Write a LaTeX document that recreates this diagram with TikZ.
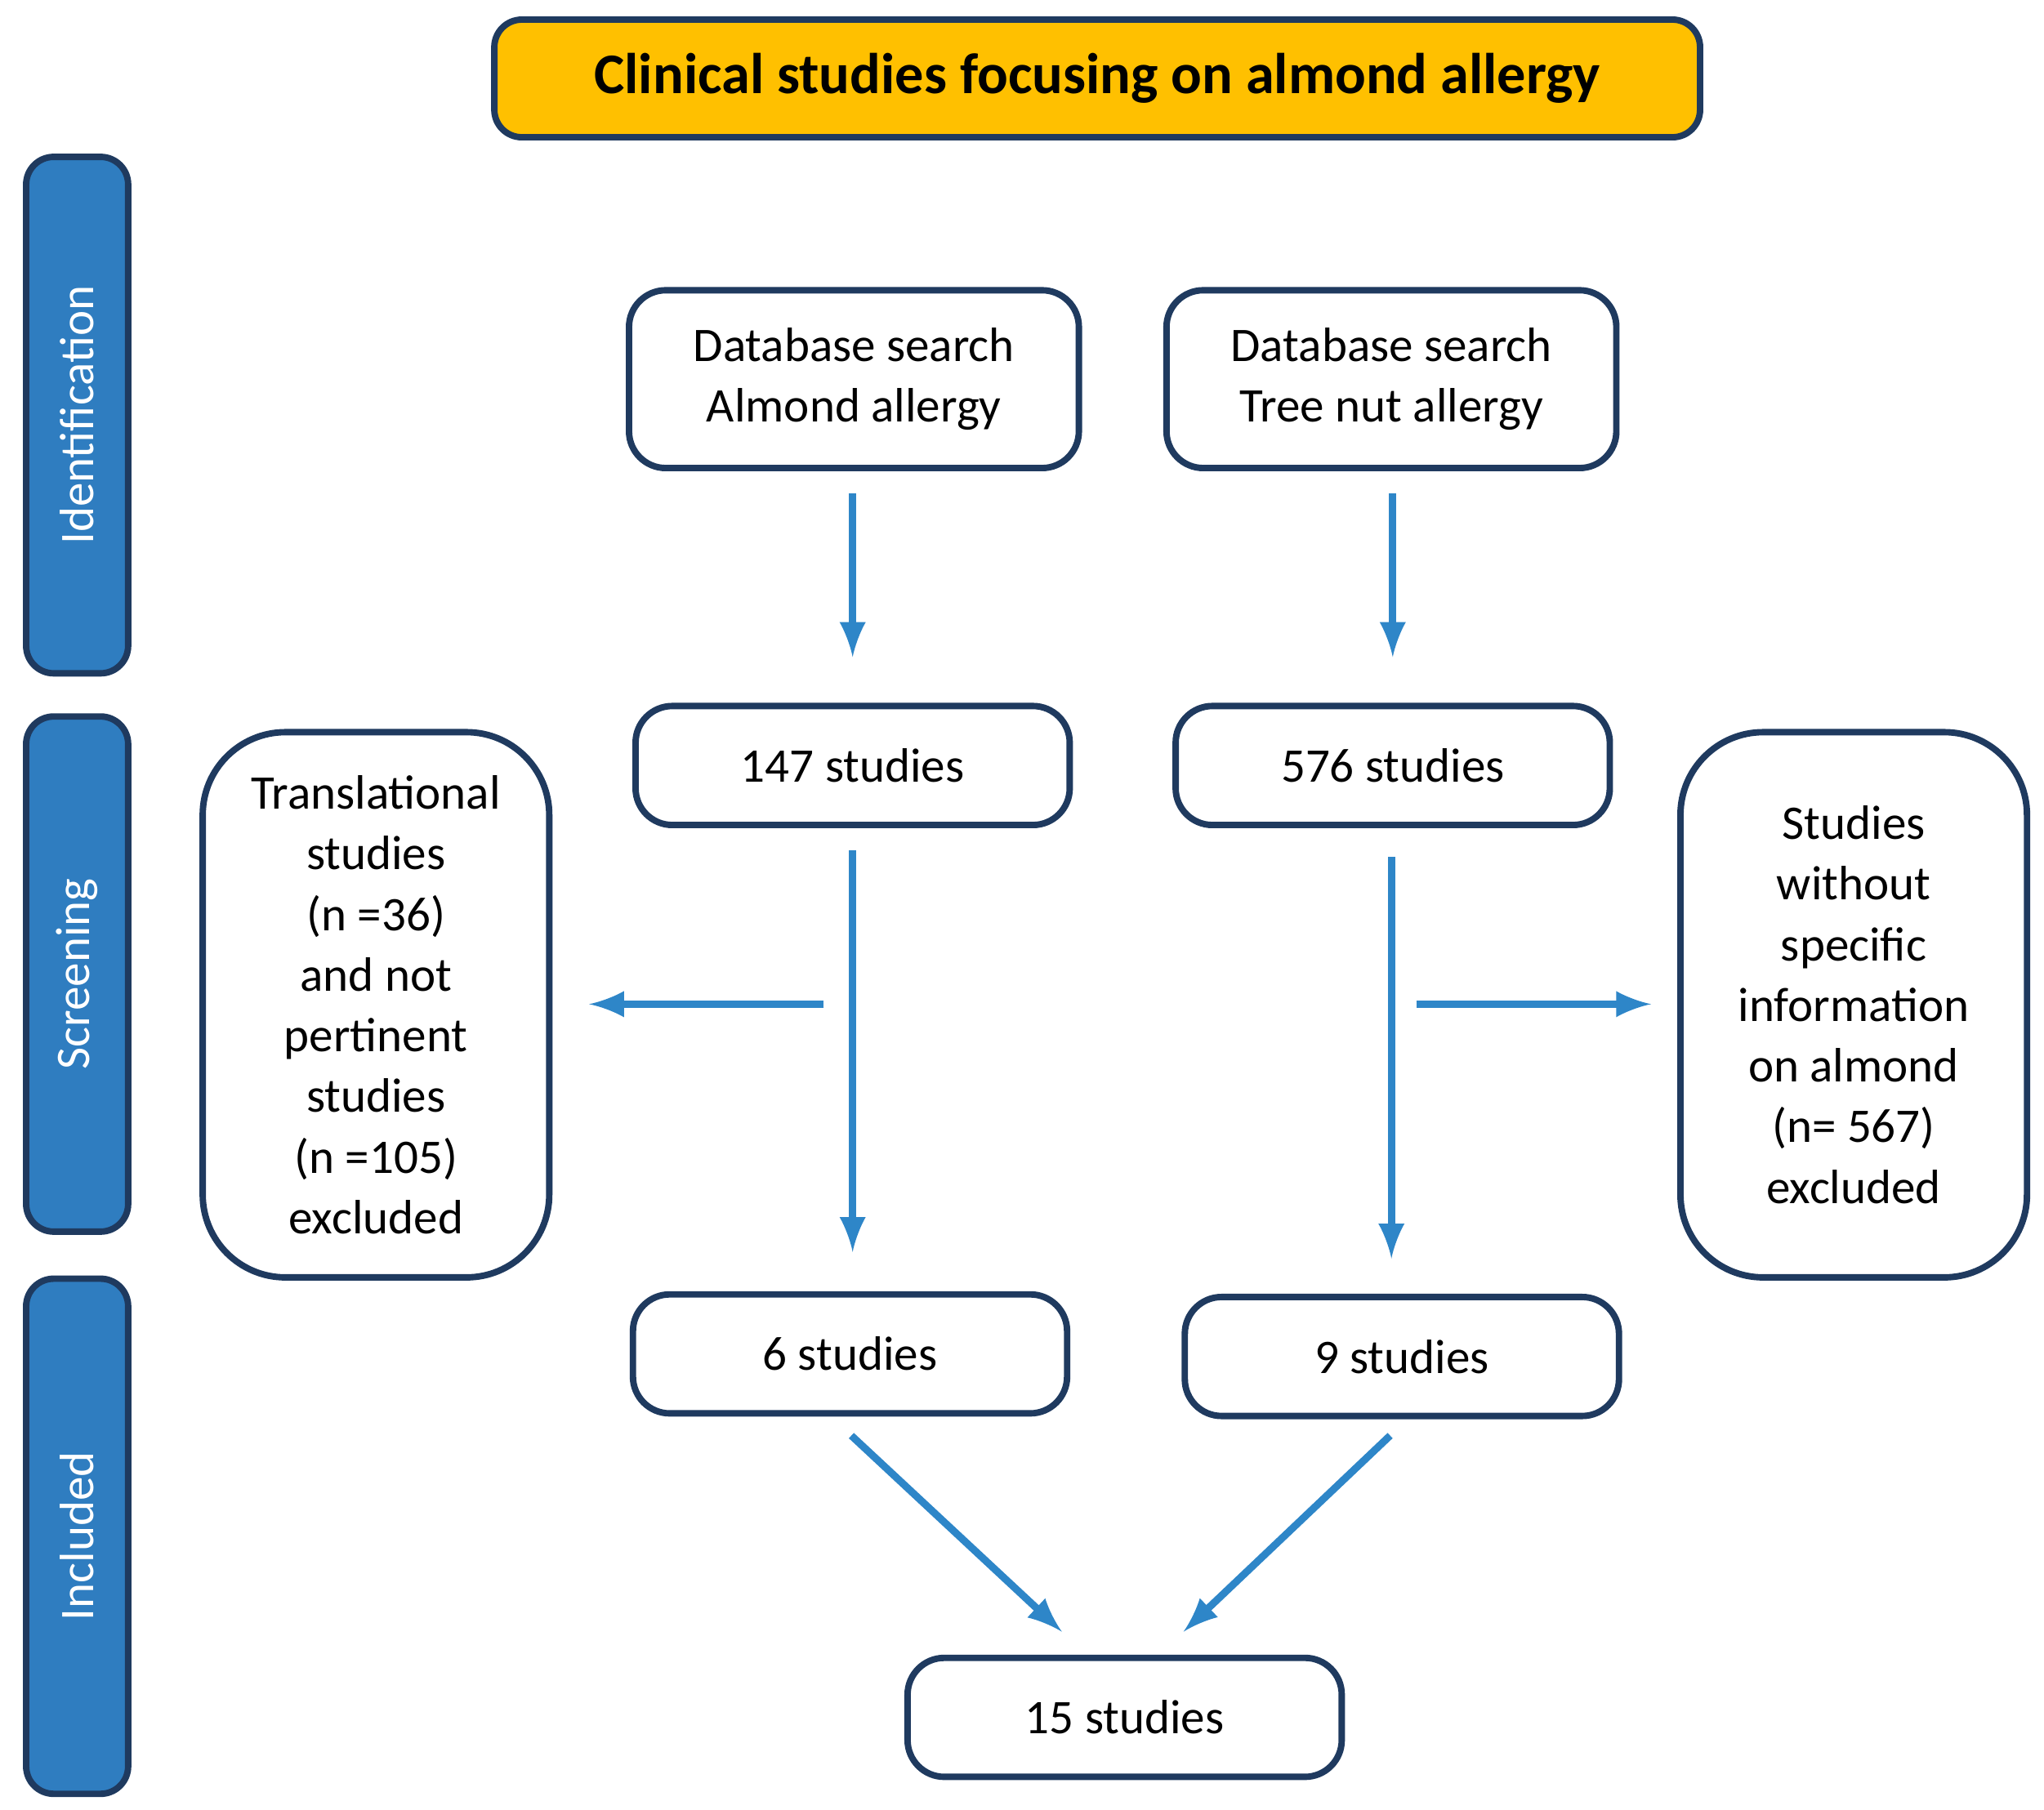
\documentclass[tikz,border=0pt]{standalone}
\usepackage{fontspec}
\setmainfont{Carlito}
\usetikzlibrary{positioning}
\definecolor{boxline}{HTML}{1F3A5F}
\definecolor{barblue}{HTML}{2F7DC0}
\definecolor{arrowblue}{HTML}{2E86C8}
\definecolor{titlefill}{HTML}{FFC000}
\tikzset{
  box/.style={draw=boxline, line width=1.4pt, rounded corners=8pt, align=center, inner sep=0pt, font=\fontsize{10.5}{13.2}\selectfont},
  bar/.style={draw=boxline, fill=barblue, line width=1.4pt, rounded corners=6pt, minimum height=0.78cm, text=white, font=\fontsize{10.5}{13}\selectfont, rotate=90},
  flow/.style={->, >=latex, draw=arrowblue, line width=1.6pt}
}
\begin{document}
\begin{tikzpicture}
  \useasboundingbox (0,0) rectangle (15.63,-13.84);

  % Title
  \node[box, fill=titlefill, rounded corners=6pt, minimum width=9.22cm, minimum height=0.9cm, font=\fontsize{12.5}{15}\selectfont\bfseries] (title) at (8.39,-0.6) {Clinical studies focusing on almond allergy};

  % Phase bars
  \node[bar, minimum width=3.95cm] (ident) at (0.59,-3.175) {Identification};
  \node[bar, minimum width=3.94cm] (screen) at (0.59,-7.45) {Screening};
  \node[bar, minimum width=3.94cm] (incl) at (0.59,-11.75) {Included};

  % Boxes
  \node[box, minimum width=3.44cm, minimum height=1.36cm] (dbA) at (6.53,-2.9) {Database search\\Almond allergy};
  \node[box, minimum width=3.44cm, minimum height=1.36cm] (dbT) at (10.64,-2.9) {Database search\\Tree nut allergy};
  \node[box, minimum width=3.32cm, minimum height=0.91cm] (sA) at (6.52,-5.855) {147 studies};
  \node[box, minimum width=3.32cm, minimum height=0.91cm] (sT) at (10.65,-5.855) {576 studies};
  \node[box, rounded corners=18pt, minimum width=2.65cm, minimum height=4.17cm] (exA) at (2.875,-7.685) {Translational\\studies\\(n =36)\\and not\\pertinent\\studies\\(n =105)\\excluded};
  \node[box, rounded corners=18pt, minimum width=2.65cm, minimum height=4.17cm] (exT) at (14.175,-7.685) {Studies\\without\\specific\\information\\on almond\\(n= 567)\\excluded};
  \node[box, minimum width=3.32cm, minimum height=0.91cm] (iA) at (6.5,-10.355) {6 studies};
  \node[box, minimum width=3.32cm, minimum height=0.91cm] (iT) at (10.72,-10.375) {9 studies};
  \node[box, minimum width=3.32cm, minimum height=0.91cm] (total) at (8.6,-13.135) {15 studies};

  % Helper points
  \coordinate (splitA) at (6.3,-7.68);
  \coordinate (splitT) at (10.83,-7.68);
  \coordinate (fromA) at (6.51,-10.98);
  \coordinate (fromT) at (10.63,-10.98);
  \coordinate (toA) at (8.12,-12.48);
  \coordinate (toT) at (9.05,-12.48);

  % Arrows
  \draw[flow, shorten <=0.17cm, shorten >=0.35cm] (dbA.south -| sA) -- (sA.north);
  \draw[flow, shorten <=0.17cm, shorten >=0.35cm] (dbT.south -| sT) -- (sT.north);
  \draw[flow, shorten <=0.17cm, shorten >=0.3cm] (sA.south) -- (iA.north -| sA);
  \draw[flow, shorten <=0.22cm, shorten >=0.27cm] (sT.south -| dbT) -- (iT.north -| dbT);
  \draw[flow, shorten >=0.28cm] (splitA) -- (exA.east |- splitA);
  \draw[flow, shorten >=0.2cm] (splitT) -- (exT.west |- splitT);
  \draw[flow] (fromA) -- (toA);
  \draw[flow] (fromT) -- (toT);
\end{tikzpicture}
\end{document}
